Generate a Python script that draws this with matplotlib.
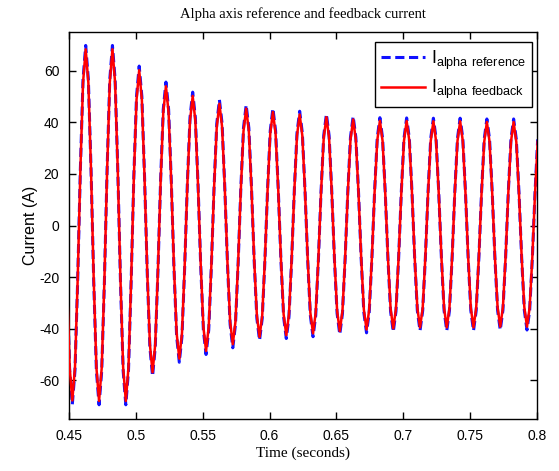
import numpy as np
import matplotlib
matplotlib.use("Agg")
import matplotlib.pyplot as plt

# ---- data ----
t_start = 0.4485   # time of first sample (s)
dt = 0.002         # sample period (s)

i_ref = [
    -21.4, -56.1,
    -69.3, -56.1, -21.4, 21.6, 56.5, 69.8, 56.5, 21.6, -21.5, -56.2,
    -69.5, -56.2, -21.5, 21.6, 56.5, 69.8, 56.5, 21.6, -21.5, -56.2,
    -69.5, -56.2, -21.5, 19.1, 50.0, 61.8, 50.0, 19.1, -18.0, -47.2,
    -58.4, -47.2, -18.0, 17.2, 45.0, 55.6, 45.0, 17.2, -16.4, -42.9,
    -53.0, -42.9, -16.4, 16.0, 41.8, 51.7, 41.8, 16.0, -15.5, -40.5,
    -50.0, -40.5, -15.5, 15.0, 39.4, 48.7, 39.4, 15.0, -14.6, -38.3,
    -47.4, -38.3, -14.6, 14.4, 37.8, 46.7, 37.8, 14.4, -13.8, -36.0,
    -44.5, -36.0, -13.8, 14.0, 36.7, 45.4, 36.7, 14.0, -13.5, -35.4,
    -43.8, -35.4, -13.5, 13.7, 35.8, 44.3, 35.8, 13.7, -13.3, -34.9,
    -43.1, -34.9, -13.3, 13.3, 34.9, 43.2, 34.9, 13.3, -13.0, -34.1,
    -42.2, -34.1, -13.0, 13.1, 34.2, 42.3, 34.2, 13.1, -12.9, -33.7,
    -41.6, -33.7, -12.9, 12.9, 33.8, 41.8, 33.8, 12.9, -12.7, -33.3,
    -41.2, -33.3, -12.7, 12.9, 33.7, 41.7, 33.7, 12.9, -12.6, -33.0,
    -40.8, -33.0, -12.6, 12.9, 33.7, 41.6, 33.7, 12.9, -12.6, -33.0,
    -40.8, -33.0, -12.6, 12.9, 33.7, 41.6, 33.7, 12.9, -12.6, -33.0,
    -40.8, -33.0, -12.6, 12.8, 33.4, 41.3, 33.4, 12.8, -12.5, -32.8,
    -40.5, -32.8, -12.5, 12.8, 33.4, 41.3, 33.4, 12.8, -12.5, -32.8,
    -40.5, -32.8, -12.5, 12.8, 33.4,
]

i_fb = [
    -21.0, -54.9,
    -67.8, -54.9, -21.0, 21.1, 55.3, 68.3, 55.3, 21.1, -21.0, -55.0,
    -68.0, -55.0, -21.0, 21.1, 55.3, 68.3, 55.3, 21.1, -21.0, -55.0,
    -68.0, -55.0, -21.0, 18.6, 48.7, 60.2, 48.7, 18.6, -17.6, -46.0,
    -56.9, -46.0, -17.6, 16.7, 43.7, 54.0, 43.7, 16.7, -15.9, -41.7,
    -51.6, -41.7, -15.9, 15.5, 40.6, 50.2, 40.6, 15.5, -15.0, -39.3,
    -48.6, -39.3, -15.0, 14.6, 38.2, 47.2, 38.2, 14.6, -14.2, -37.2,
    -46.0, -37.2, -14.2, 14.0, 36.6, 45.3, 36.6, 14.0, -13.3, -34.9,
    -43.2, -34.9, -13.3, 13.6, 35.6, 44.0, 35.6, 13.6, -13.1, -34.4,
    -42.5, -34.4, -13.1, 13.3, 34.8, 43.0, 34.8, 13.3, -12.9, -33.8,
    -41.8, -33.8, -12.9, 13.0, 34.0, 42.0, 34.0, 13.0, -12.6, -33.1,
    -40.9, -33.1, -12.6, 12.7, 33.2, 41.1, 33.2, 12.7, -12.5, -32.6,
    -40.3, -32.6, -12.5, 12.5, 32.8, 40.6, 32.8, 12.5, -12.3, -32.3,
    -39.9, -32.3, -12.3, 12.5, 32.8, 40.5, 32.8, 12.5, -12.2, -32.0,
    -39.5, -32.0, -12.2, 12.5, 32.7, 40.4, 32.7, 12.5, -12.2, -32.0,
    -39.5, -32.0, -12.2, 12.5, 32.7, 40.4, 32.7, 12.5, -12.2, -32.0,
    -39.5, -32.0, -12.2, 12.4, 32.4, 40.1, 32.4, 12.4, -12.1, -31.7,
    -39.2, -31.7, -12.1, 12.4, 32.4, 40.1, 32.4, 12.4, -12.1, -31.7,
    -39.2, -31.7, -12.1, 12.4, 32.4,
]

x_ticks = [0.45, 0.5, 0.55, 0.6, 0.65, 0.7, 0.75, 0.8]
x_tick_labels = ["0.45", "0.5", "0.55", "0.6", "0.65", "0.7", "0.75", "0.8"]
y_ticks = [-60, -40, -20, 0, 20, 40, 60]
y_tick_labels = ["-60", "-40", "-20", "0", "20", "40", "60"]

title = "Alpha axis reference and feedback current"
xlabel = "Time (seconds)"
ylabel = "Current (A)"
label_ref = r"$\mathregular{I_{alpha\ reference}}$"
label_fb = r"$\mathregular{I_{alpha\ feedback}}$"

# ---- figure ----
time = t_start + dt * np.arange(len(i_ref))

fig = plt.figure(figsize=(5.59, 4.71), dpi=100)
ax = fig.add_axes([0.1234, 0.1104, 0.8373, 0.8216])

ax.plot(time, i_ref, color="#1010ff", lw=2.2, ls=(0, (3, 1.5)), label=label_ref, zorder=2)
ax.plot(time, i_fb, color="#ff0000", lw=1.8, label=label_fb, zorder=3)

ax.set_xlim(0.45, 0.8)
ax.set_ylim(-75, 75)
ax.set_xticks(x_ticks)
ax.set_xticklabels(x_tick_labels)
ax.set_yticks(y_ticks)
ax.set_yticklabels(y_tick_labels)
ax.tick_params(direction="in", top=True, right=True, length=5, width=1,
               labelsize=10, pad=7)
for lab in ax.get_xticklabels() + ax.get_yticklabels():
    lab.set_fontfamily("Liberation Sans")
for sp in ax.spines.values():
    sp.set_linewidth(1.0)

ax.set_title(title, fontfamily="Liberation Serif", fontsize=10.5, pad=10)
ax.set_xlabel(xlabel, fontfamily="Liberation Serif", fontsize=11, labelpad=3)
ax.set_ylabel(ylabel, fontfamily="Liberation Sans", fontsize=11.5, labelpad=0.5)

leg = ax.legend(loc="upper right", bbox_to_anchor=(0.9893, 0.9742),
                borderaxespad=0,
                prop={"family": "Liberation Sans", "size": 13},
                fancybox=False, edgecolor="black", framealpha=1,
                handlelength=2.4, handletextpad=0.35, borderpad=0.35,
                labelspacing=0.35)
leg.get_frame().set_linewidth(1.0)

fig.savefig("out.png", dpi=100)
